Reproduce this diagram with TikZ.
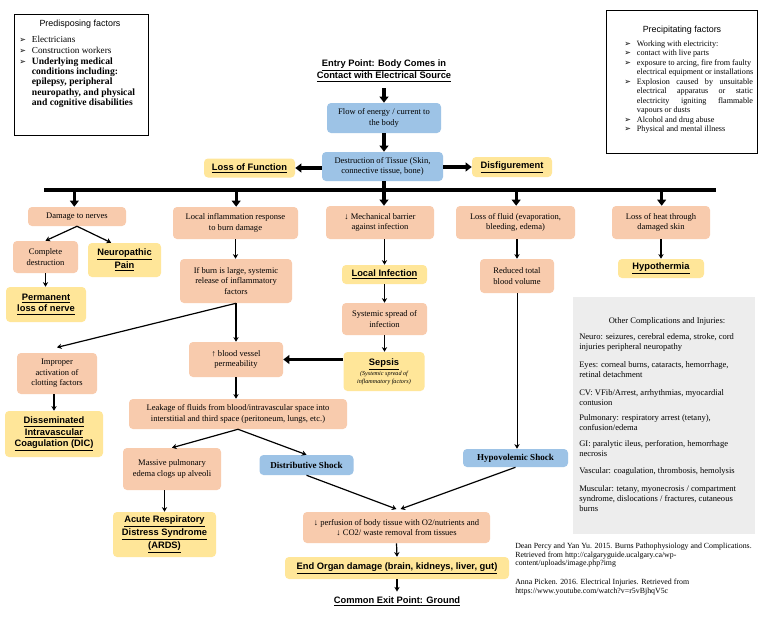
\documentclass[tikz,border=0pt]{standalone}
\usepackage{fontspec}
\setmainfont{Liberation Serif}
\setsansfont{Liberation Sans}
\newfontfamily\symb{DejaVu Sans}
\usetikzlibrary{arrows.meta}

\definecolor{bleuc}{HTML}{9DC3E6}
\definecolor{saumonc}{HTML}{F8CBAD}
\definecolor{jaunec}{HTML}{FFE699}
\definecolor{grisc}{HTML}{EDEDED}

\newcommand{\petit}{\fontsize{6.4}{7.9}\selectfont}
\newcommand{\titre}{\fontsize{7}{8.3}\selectfont\sffamily\bfseries}
\newcommand{\choc}{\fontsize{6.8}{8}\selectfont\bfseries}
\newcommand{\sepsfont}{\fontsize{4.6}{5.5}\selectfont\rmfamily\mdseries\itshape}
\newcommand{\sou}[1]{\underline{#1}}
\newcommand{\puce}{\makebox[9.5pt][l]{\symb\fontsize{6}{6}\selectfont ➢}}
\newcommand{\retrait}{\hspace*{9.5pt}}

\begin{document}
\begin{tikzpicture}[x=0.75pt,y=-0.75pt,
    dim/.style 2 args={minimum width=#1*0.75pt, minimum height=#2*0.75pt},
    boite/.style={rounded corners=3pt, align=center, inner sep=1pt, font=\petit},
    bleu/.style={boite, fill=bleuc},
    saumon/.style={boite, fill=saumonc},
    jaune/.style={boite, fill=jaunec, font=\titre},
    grosse/.style={line width=2.4pt, -{Triangle[length=4.5pt,width=6.5pt]}},
    fine/.style={line width=0.9pt, -{Stealth[length=3.5pt,width=4pt]}}]
    \fill[white] (0,0) rectangle (768,618);
    \useasboundingbox (0,0) rectangle (768,618);

    % Facteurs prédisposants
    \node[draw, line width=0.8pt, dim={134}{121}, anchor=north west] (predis) at (14,14) {};
    \node[font=\fontsize{6.7}{7.5}\selectfont\sffamily] (predistitre) at (80,24) {Predisposing factors};
    \node[anchor=base west, inner sep=0pt, font=\fontsize{6.9}{8}\selectfont] (elec) at (19,42.5) {\puce Electricians};
    \node[anchor=base west, inner sep=0pt, font=\fontsize{6.9}{8}\selectfont] (constr) at (19,53.5) {\puce Construction workers};
    \node[anchor=north west, inner sep=0pt, align=left, font=\fontsize{7.2}{7.7}\selectfont\bfseries] (medical) at (19,57.5)
        {\puce Underlying medical\\\retrait conditions including:\\\retrait epilepsy, peripheral\\\retrait neuropathy, and physical\\\retrait and cognitive disabilities};

    % Facteurs déclenchants
    \node[draw, line width=0.8pt, dim={151}{143}, anchor=north west] (precip) at (606,10) {};
    \node[font=\fontsize{6.7}{7.5}\selectfont\sffamily] (preciptitre) at (682,30) {Precipitating factors};
    \node[anchor=north west, inner sep=0pt, align=left, font=\fontsize{6.1}{7.1}\selectfont] (precipliste) at (624,40.5)
        {\puce Working with electricity:\\
         \puce contact with live parts\\
         \puce exposure to arcing, fire from faulty\\
         \retrait electrical equipment or installations\\
         \puce\makebox[87pt][s]{Explosion caused by unsuitable}\\
         \retrait\makebox[87pt][s]{electrical apparatus or static}\\
         \retrait\makebox[87pt][s]{electricity igniting flammable}\\
         \retrait vapours or dusts\\
         \puce Alcohol and drug abuse\\
         \puce Physical and mental illness};

    % Point d'entrée et tronc
    \node[font=\titre, align=center] (entree) at (384,70.5) {\sou{Entry Point: Body Comes in}\\\sou{Contact with Electrical Source}};
    \node[bleu, dim={114}{30}] (flux) at (384,118) {Flow of energy / current to\\the body};
    \node[bleu, dim={121}{29}] (destr) at (382.5,166.5) {Destruction of Tissue (Skin,\\connective tissue, bone)};
    \node[jaune, dim={91}{19}] (perte) at (249.5,168) {\sou{Loss of Function}};
    \node[jaune, dim={80}{20}] (defig) at (512,167) {\sou{Disfigurement}};
    \draw[grosse, shorten <=1.5pt] (flux.north |- entree.south) -- (flux.north);
    \draw[grosse] (flux.south) -- (flux.south |- destr.north);
    \draw[grosse] (destr.west |- perte.east) -- (perte.east);
    \draw[grosse] (destr.east |- defig.west) -- (defig.west);

    % Barre
    \coordinate (barreG) at (44,190);
    \coordinate (barreD) at (716,190);
    \draw[line width=3pt] (barreG) -- (barreD);
    \draw[line width=2.4pt] (flux.south |- destr.south) -- (flux.south |- barreG);

    % Premier rang
    \node[saumon, dim={98}{19}] (nerfs) at (77,216.5) {Damage to nerves};
    \node[saumon, dim={125}{32}] (inflam) at (235.5,223) {Local inflammation response\\to burn damage};
    \node[saumon, dim={108}{33}] (barriere) at (380,222.5) {↓ Mechanical barrier\\against infection};
    \node[saumon, dim={119}{33}] (liquide) at (515.5,222.5) {Loss of fluid (evaporation,\\bleeding, edema)};
    \node[saumon, dim={98}{33}] (chaleur) at (661,222.5) {Loss of heat through\\damaged skin};
    \foreach \n/\dx in {nerfs/-2, inflam/0.5, barriere/3, liquide/0.5, chaleur/0.5}
        \draw[grosse] ([xshift=\dx pt]\n.north |- barreG) -- ([xshift=\dx pt]\n.north);

    % Nerfs
    \node[saumon, dim={65}{32}] (destruc) at (45.5,257) {Complete\\destruction};
    \node[jaune, dim={73}{34}] (neuro) at (124.5,260) {\sou{Neuropathic}\\\sou{Pain}};
    \node[jaune, dim={80}{35}] (permanent) at (46,304.5) {\sou{Permanent}\\\sou{loss of nerve}};
    \draw[fine] (nerfs.south) -- (destruc.north);
    \draw[fine] (nerfs.south) -- ([xshift=-10pt]neuro.north);
    \draw[fine] (destruc.south) -- (destruc.south |- permanent.north);

    % Inflammation
    \node[saumon, dim={112}{44}] (systemique) at (236,281) {If burn is large, systemic\\release of inflammatory\\factors};
    \node[saumon, dim={80}{41}] (coag) at (57,373.5) {Improper\\activation of\\clotting factors};
    \node[saumon, dim={94}{35}] (vaisseau) at (236,359.5) {↑ blood vessel\\permeability};
    \node[jaune, dim={98}{46}] (dic) at (54,434) {\sou{Disseminated}\\\sou{Intravascular}\\\sou{Coagulation (DIC)}};
    \node[saumon, dim={218}{30}] (fuite) at (238,414) {Leakage of fluids from blood/intravascular space into\\interstitial and third space (peritoneum, lungs, etc.)};
    \draw[fine] (inflam.south) -- (inflam.south |- systemique.north);
    \draw[fine] (systemique.south) -- ([yshift=4pt]coag.north);
    \draw[fine] (systemique.south) -- (vaisseau.north);
    \draw[fine] (dic.north |- coag.south) -- (dic.north);
    \draw[fine] (vaisseau.south) -- (vaisseau.south |- fuite.north);

    % Infection
    \node[jaune, dim={85}{19}] (infloc) at (384.5,274.5) {\sou{Local Infection}};
    \node[saumon, dim={85}{32}] (propag) at (384.5,319) {Systemic spread of\\infection};
    \node[jaune, dim={81}{39}] (sepsis) at (384,371.5) {\sou{Sepsis}\\[-1pt]{\sepsfont (Systemic spread of}\\[-2.3pt]{\sepsfont inflammatory factors)}};
    \draw[fine] (infloc.north |- barriere.south) -- (infloc.north);
    \draw[fine] (infloc.south) -- (propag.north);
    \draw[fine] (propag.south) -- (propag.south |- sepsis.north);
    \draw[grosse] (sepsis.west |- vaisseau.east) -- (vaisseau.east);

    % Liquides et chaleur
    \node[saumon, dim={74}{34}] (volume) at (517,276) {Reduced total\\blood volume};
    \node[bleu, dim={105}{18}, font=\choc] (hypovol) at (515.5,458) {Hypovolemic Shock};
    \node[jaune, dim={86}{19}] (hypoth) at (661,268.5) {\sou{Hypothermia}};
    \draw[fine] (volume.north |- liquide.south) -- (volume.north);
    \draw[line width=0.7pt, -{Stealth[length=3.5pt,width=4pt]}] (volume.south) -- (volume.south |- hypovol.north);
    \draw[fine] (chaleur.south) -- (hypoth.north);

    % Fuite des liquides
    \node[saumon, dim={98}{42}] (poumon) at (172,469) {Massive pulmonary\\edema clogs up alveoli};
    \node[bleu, dim={94}{20}, font=\choc] (distrib) at (306.5,465) {Distributive Shock};
    \node[jaune, dim={103}{45}] (sdra) at (164.5,534.5) {\sou{Acute Respiratory}\\\sou{Distress Syndrome}\\\sou{(ARDS)}};
    \draw[fine] (fuite.south) -- (poumon.north);
    \draw[fine] (fuite.south) -- (distrib.north);
    \draw[fine] (sdra.north |- poumon.south) -- (sdra.north);

    % Sortie
    \node[saumon, dim={187}{31}] (perfusion) at (396.5,527.5) {↓ perfusion of body tissue with O2/nutrients and\\↓ CO2/ waste removal from tissues};
    \node[jaune, dim={224}{22}] (organe) at (397,568) {\sou{End Organ damage (brain, kidneys, liver, gut)}};
    \node[font=\titre] (sortie) at (397,601) {\sou{Common Exit Point: Ground}};
    \draw[fine] (distrib.south) -- ([yshift=2pt]perfusion.north);
    \draw[fine] (hypovol.south) -- ([xshift=3pt,yshift=2pt]perfusion.north);
    \draw[fine] (perfusion.south) -- (organe.north);
    \draw[fine] (organe.south) -- (sortie.north);

    % Autres complications
    \node[fill=grisc, dim={182}{237}, anchor=north west] (autres) at (573,297) {};
    \node[font=\fontsize{6.4}{7.5}\selectfont] (autrestitre) at (667,321) {Other Complications and Injuries:};
    \node[anchor=north west, inner sep=0pt, align=left, font=\fontsize{6.4}{7.5}\selectfont] (autrestxt) at (579,333)
        {Neuro: seizures, cerebral edema, stroke, cord\\injuries peripheral neuropathy\\[6pt]
         Eyes: corneal burns, cataracts, hemorrhage,\\retinal detachment\\[6pt]
         CV: VFib/Arrest, arrhythmias, myocardial\\contusion\\[4pt]
         Pulmonary: respiratory arrest (tetany),\\confusion/edema\\[4.5pt]
         GI: paralytic ileus, perforation, hemorrhage\\necrosis\\[5.3pt]
         Vascular: coagulation, thrombosis, hemolysis\\[6pt]
         Muscular: tetany, myonecrosis / compartment\\syndrome, dislocations / fractures, cutaneous\\burns};

    % Références
    \node[anchor=north west, inner sep=0pt, align=left, font=\fontsize{5.9}{6.6}\selectfont] (refs) at (515,542.5)
        {Dean Percy and Yan Yu. 2015. Burns Pathophysiology and Complications.\\
         Retrieved from http://calgaryguide.ucalgary.ca/wp-\\
         content/uploads/image.php?img\\[7.5pt]
         Anna Picken. 2016. Electrical Injuries. Retrieved from\\
         https://www.youtube.com/watch?v=r5vBjhqV5c};
\end{tikzpicture}
\end{document}
